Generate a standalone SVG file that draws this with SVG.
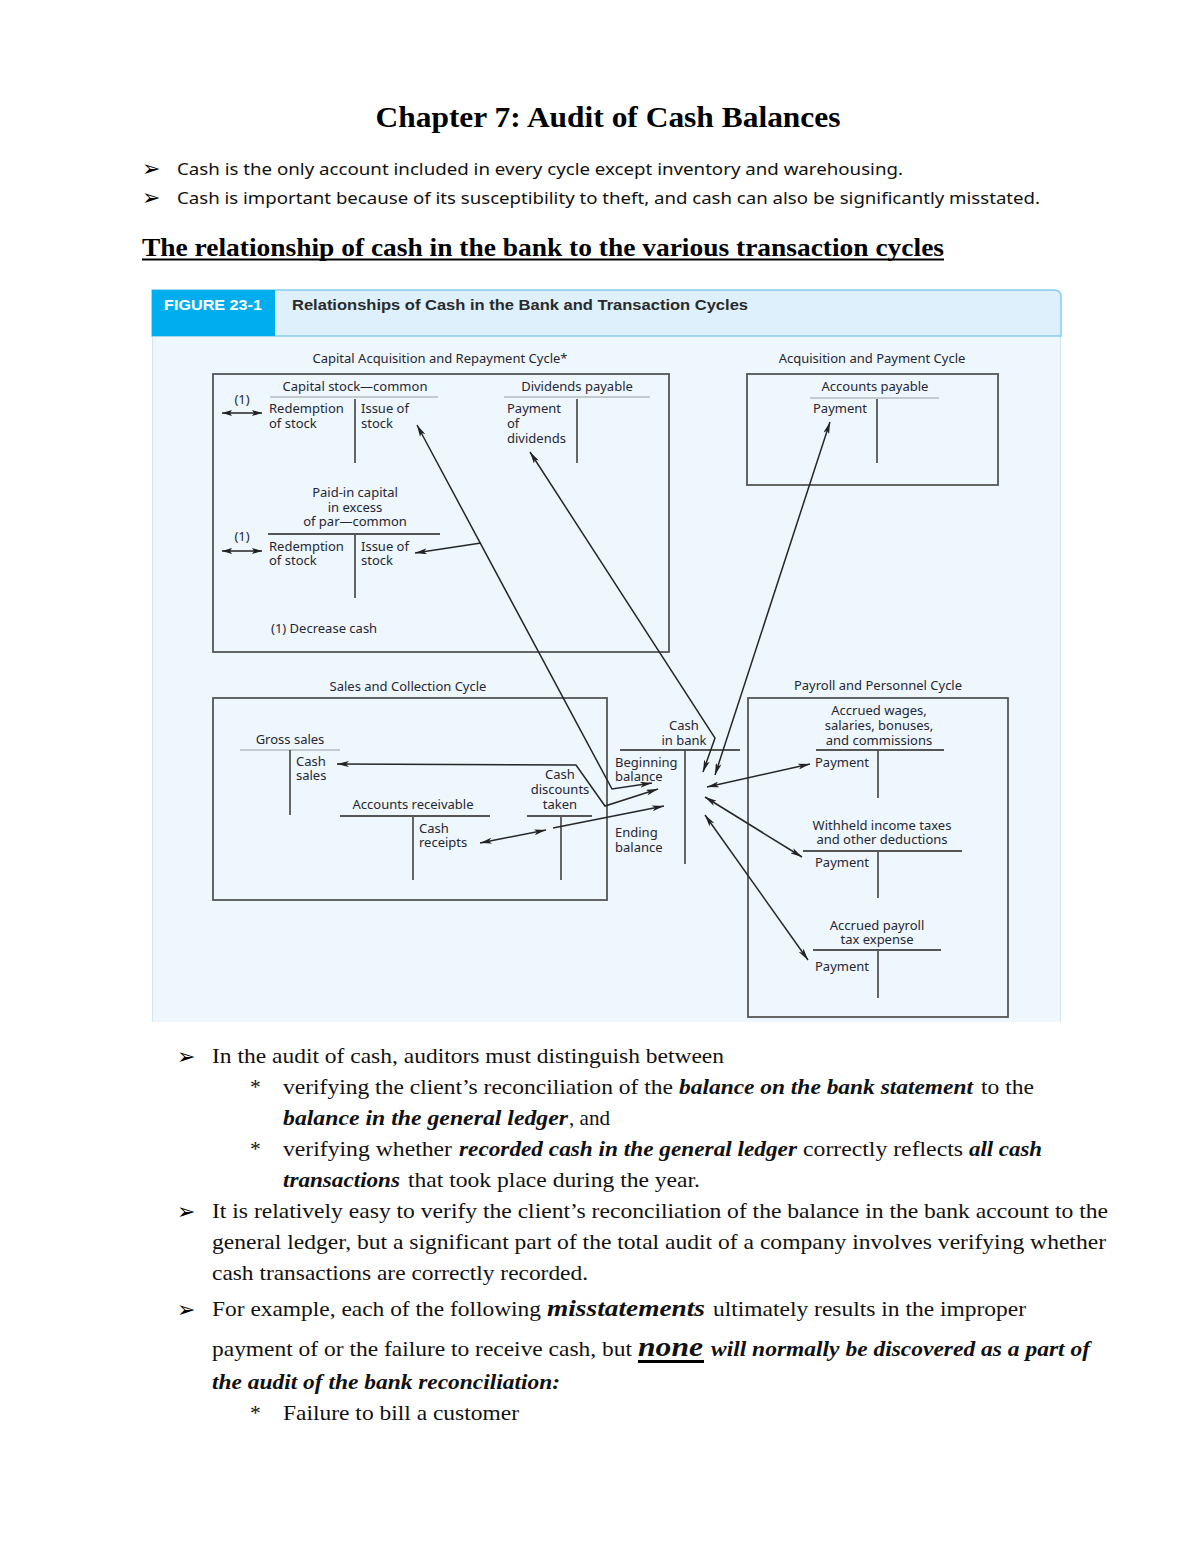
<svg xmlns="http://www.w3.org/2000/svg" width="1200" height="1553" viewBox="0 0 1200 1553">
<defs>
<marker id="ah" viewBox="0 0 12 6" refX="12" refY="3" markerWidth="12" markerHeight="6" markerUnits="userSpaceOnUse" orient="auto-start-reverse"><path d="M0,0 L12,3 L0,6 L3,3 z" fill="#222"/></marker>
<marker id="ahs" viewBox="0 0 10 6" refX="10" refY="3" markerWidth="10" markerHeight="6" markerUnits="userSpaceOnUse" orient="auto-start-reverse"><path d="M0,0 L10,3 L0,6 L2,3 z" fill="#222"/></marker>
</defs>
<style>
.ser{font-family:"Liberation Serif","Times New Roman",serif;fill:#000}
.cal{font-family:"Noto Sans","Open Sans",sans-serif;font-size:16px;fill:#111}
.bul{font-family:"DejaVu Sans",sans-serif;font-size:22px;fill:#000}
.body{font-family:"Liberation Serif","Times New Roman",serif;font-size:21.5px;fill:#111}
.bi{font-weight:bold;font-style:italic}
.f{font-family:"Noto Sans","Open Sans",sans-serif;font-size:13px;fill:#262633}
.m{text-anchor:middle}
.box{fill:none;stroke:#555;stroke-width:1.8}
.tl{stroke:#555;stroke-width:1.8;fill:none}
.tll{stroke:#b5bcc2;stroke-width:1.5;fill:none}
.cn{stroke:#262626;stroke-width:1.5;fill:none;marker-start:url(#ah);marker-end:url(#ah)}
.cn1{stroke:#262626;stroke-width:1.5;fill:none;marker-end:url(#ah)}
</style>
<rect x="0" y="0" width="1200" height="1553" fill="#fff"/>

<g id="page-header">
<text class="ser" x="608" y="127" font-size="29" font-weight="bold" text-anchor="middle" textLength="465" lengthAdjust="spacingAndGlyphs">Chapter 7: Audit of Cash Balances</text>
<text class="bul" x="142" y="176">➢</text>
<text class="cal" x="177" y="175" textLength="726" lengthAdjust="spacingAndGlyphs">Cash is the only account included in every cycle except inventory and warehousing.</text>
<text class="bul" x="142" y="205">➢</text>
<text class="cal" x="177" y="204" textLength="863" lengthAdjust="spacingAndGlyphs">Cash is important because of its susceptibility to theft, and cash can also be significantly misstated.</text>
<text class="ser" x="142" y="256" font-size="25" font-weight="bold" textLength="802" lengthAdjust="spacingAndGlyphs">The relationship of cash in the bank to the various transaction cycles</text>
<rect x="142" y="258.5" width="802" height="2" fill="#000"/>
</g>

<g id="figure-panel">
<rect x="152" y="290" width="909" height="732" fill="#eef7fd"/>
<line x1="152.5" y1="336" x2="152.5" y2="1022" stroke="#cfe7f5" stroke-width="1"/>
<line x1="1060.5" y1="336" x2="1060.5" y2="1022" stroke="#cfe7f5" stroke-width="1"/>
<path d="M152,336 V290 H1054 Q1061,290 1061,297 V336 Z" fill="#ddf0fb" stroke="#86cdef" stroke-width="1.5"/>
<rect x="152" y="290" width="123" height="46" fill="#00aeef"/>
<text x="164" y="310" font-family="'Liberation Sans',Arial,sans-serif" font-size="15" font-weight="bold" fill="#fff" textLength="98" lengthAdjust="spacingAndGlyphs">FIGURE 23-1</text>
<text x="292" y="310" font-family="'Liberation Sans',Arial,sans-serif" font-size="15" font-weight="bold" fill="#2a2a2a" textLength="456" lengthAdjust="spacingAndGlyphs">Relationships of Cash in the Bank and Transaction Cycles</text>
</g>

<g id="capital-cycle">
<text class="f m" x="440" y="363">Capital Acquisition and Repayment Cycle*</text>
<rect class="box" x="213" y="374" width="456" height="278"/>
</g>
<g id="capital-stock">
<text class="f m" x="355" y="391">Capital stock—common</text>
<line class="tll" x1="270" y1="397" x2="438" y2="397"/>
<line class="tl" x1="355" y1="399" x2="355" y2="463"/>
<text class="f" x="269" y="413">Redemption</text><text class="f" x="269" y="428">of stock</text>
<text class="f" x="361" y="413">Issue of</text><text class="f" x="361" y="428">stock</text>
<text class="f m" x="242" y="404" font-size="12">(1)</text>
<line x1="222" y1="413" x2="262" y2="413" stroke="#222" stroke-width="1.5" marker-start="url(#ahs)" marker-end="url(#ahs)"/>
</g>
<g id="dividends-payable">
<text class="f m" x="577" y="391">Dividends payable</text>
<line class="tll" x1="504" y1="397" x2="650" y2="397"/>
<line class="tl" x1="577" y1="399" x2="577" y2="463"/>
<text class="f" x="507" y="413">Payment</text><text class="f" x="507" y="428">of</text><text class="f" x="507" y="443">dividends</text>
</g>
<g id="paid-in-capital">
<text class="f m" x="355" y="497">Paid-in capital</text>
<text class="f m" x="355" y="512">in excess</text>
<text class="f m" x="355" y="526">of par—common</text>
<line class="tl" x1="268" y1="534" x2="440" y2="534"/>
<line class="tl" x1="355" y1="535" x2="355" y2="598"/>
<text class="f" x="269" y="551">Redemption</text><text class="f" x="269" y="565">of stock</text>
<text class="f" x="361" y="551">Issue of</text><text class="f" x="361" y="565">stock</text>
<text class="f m" x="242" y="541" font-size="12">(1)</text>
<line x1="222" y1="551" x2="262" y2="551" stroke="#222" stroke-width="1.5" marker-start="url(#ahs)" marker-end="url(#ahs)"/>
<text class="f" x="271" y="633" font-size="12.5">(1) Decrease cash</text>
</g>

<g id="acquisition-cycle">
<text class="f m" x="872" y="363">Acquisition and Payment Cycle</text>
<rect class="box" x="747" y="374" width="251" height="111"/>
<text class="f m" x="875" y="391">Accounts payable</text>
<line class="tll" x1="810" y1="398" x2="939" y2="398"/>
<line class="tl" x1="877" y1="399" x2="877" y2="463"/>
<text class="f" x="813" y="413">Payment</text>
</g>

<g id="sales-cycle">
<text class="f m" x="408" y="691">Sales and Collection Cycle</text>
<rect class="box" x="213" y="698" width="394" height="202"/>
</g>
<g id="gross-sales">
<text class="f m" x="290" y="744">Gross sales</text>
<line class="tll" x1="240" y1="750" x2="340" y2="750"/>
<line class="tl" x1="290" y1="750" x2="290" y2="815"/>
<text class="f" x="296" y="766">Cash</text><text class="f" x="296" y="780">sales</text>
</g>
<g id="accounts-receivable">
<text class="f m" x="413" y="809">Accounts receivable</text>
<line class="tl" x1="340" y1="816" x2="490" y2="816"/>
<line class="tl" x1="413" y1="816" x2="413" y2="880"/>
<text class="f" x="419" y="833">Cash</text><text class="f" x="419" y="847">receipts</text>
</g>
<g id="cash-discounts">
<text class="f m" x="560" y="779">Cash</text>
<text class="f m" x="560" y="794">discounts</text>
<text class="f m" x="560" y="809">taken</text>
<line class="tl" x1="527" y1="816" x2="592" y2="816"/>
<line class="tl" x1="561" y1="816" x2="561" y2="880"/>
</g>

<g id="cash-in-bank">
<text class="f m" x="684" y="730">Cash</text>
<text class="f m" x="684" y="745">in bank</text>
<line class="tl" x1="620" y1="750" x2="740" y2="750"/>
<line class="tl" x1="685" y1="750" x2="685" y2="864"/>
<text class="f" x="615" y="767">Beginning</text><text class="f" x="615" y="781">balance</text>
<text class="f" x="615" y="837">Ending</text><text class="f" x="615" y="852">balance</text>
</g>

<g id="payroll-cycle">
<text class="f m" x="878" y="690">Payroll and Personnel Cycle</text>
<rect class="box" x="748" y="698" width="260" height="319"/>
</g>
<g id="accrued-wages">
<text class="f m" x="879" y="715">Accrued wages,</text>
<text class="f m" x="879" y="730">salaries, bonuses,</text>
<text class="f m" x="879" y="745">and commissions</text>
<line class="tl" x1="816" y1="750" x2="944" y2="750"/>
<line class="tl" x1="878" y1="750" x2="878" y2="798"/>
<text class="f" x="815" y="767">Payment</text>
</g>
<g id="withheld-taxes">
<text class="f m" x="882" y="830">Withheld income taxes</text>
<text class="f m" x="882" y="844">and other deductions</text>
<line class="tl" x1="803" y1="851" x2="962" y2="851"/>
<line class="tl" x1="878" y1="851" x2="878" y2="898"/>
<text class="f" x="815" y="867">Payment</text>
</g>
<g id="payroll-tax">
<text class="f m" x="877" y="930">Accrued payroll</text>
<text class="f m" x="877" y="944">tax expense</text>
<line class="tl" x1="813" y1="950" x2="941" y2="950"/>
<line class="tl" x1="878" y1="950" x2="878" y2="998"/>
<text class="f" x="815" y="971">Payment</text>
</g>

<g id="connectors">
<path class="cn" d="M417,425 L612,789 L652,783"/>
<path class="cn1" d="M481,543 L415,553"/>
<path class="cn" d="M530,452 L715,738 L703,772"/>
<path class="cn" d="M830,422 L715,775"/>
<path class="cn" d="M337,764 L576,765 L605,806 L658,789"/>
<path class="cn" d="M480,843 L546,830"/>
<path class="cn1" d="M553,828 L664,806"/>
<path class="cn" d="M707,787 L810,764"/>
<path class="cn" d="M705,797 L802,857"/>
<path class="cn" d="M705,815 L808,960"/>
</g>

<g id="body-text">
<text class="bul" x="177" y="1064">➢</text>
<text class="body" x="212" y="1063" textLength="512" lengthAdjust="spacingAndGlyphs">In the audit of cash, auditors must distinguish between</text>

<text class="body" x="250" y="1094">*</text>
<text class="body" y="1094"><tspan x="283" textLength="390" lengthAdjust="spacingAndGlyphs">verifying the client’s reconciliation of the</tspan><tspan class="bi" x="679" textLength="294" lengthAdjust="spacingAndGlyphs">balance on the bank statement</tspan><tspan x="981" textLength="53" lengthAdjust="spacingAndGlyphs">to the</tspan></text>
<text class="body" y="1125"><tspan class="bi" x="283" textLength="285" lengthAdjust="spacingAndGlyphs">balance in the general ledger</tspan><tspan x="569" textLength="41" lengthAdjust="spacingAndGlyphs">, and</tspan></text>

<text class="body" x="250" y="1156">*</text>
<text class="body" y="1156"><tspan x="283" textLength="169" lengthAdjust="spacingAndGlyphs">verifying whether</tspan><tspan class="bi" x="459" textLength="338" lengthAdjust="spacingAndGlyphs">recorded cash in the general ledger</tspan><tspan x="803" textLength="160" lengthAdjust="spacingAndGlyphs">correctly reflects</tspan><tspan class="bi" x="969" textLength="73" lengthAdjust="spacingAndGlyphs">all cash</tspan></text>
<text class="body" y="1187"><tspan class="bi" x="283" textLength="117" lengthAdjust="spacingAndGlyphs">transactions</tspan><tspan x="408" textLength="292" lengthAdjust="spacingAndGlyphs">that took place during the year.</tspan></text>

<text class="bul" x="177" y="1219">➢</text>
<text class="body" x="212" y="1218" textLength="896" lengthAdjust="spacingAndGlyphs">It is relatively easy to verify the client’s reconciliation of the balance in the bank account to the</text>
<text class="body" x="212" y="1249" textLength="894" lengthAdjust="spacingAndGlyphs">general ledger, but a significant part of the total audit of a company involves verifying whether</text>
<text class="body" x="212" y="1280" textLength="376" lengthAdjust="spacingAndGlyphs">cash transactions are correctly recorded.</text>

<text class="bul" x="177" y="1317">➢</text>
<text class="body" y="1316"><tspan x="212" textLength="329" lengthAdjust="spacingAndGlyphs">For example, each of the following</tspan><tspan class="bi" x="547" font-size="24" textLength="158" lengthAdjust="spacingAndGlyphs">misstatements</tspan><tspan x="713" textLength="313" lengthAdjust="spacingAndGlyphs">ultimately results in the improper</tspan></text>
<text class="body" y="1356"><tspan x="212" textLength="420" lengthAdjust="spacingAndGlyphs">payment of or the failure to receive cash, but</tspan><tspan class="bi" x="638" font-size="27" textLength="65" lengthAdjust="spacingAndGlyphs">none</tspan><tspan class="bi" x="711" textLength="379" lengthAdjust="spacingAndGlyphs">will normally be discovered as a part of</tspan></text>
<rect x="638" y="1360" width="66" height="3" fill="#000"/>
<text class="body bi" x="212" y="1389" textLength="348" lengthAdjust="spacingAndGlyphs">the audit of the bank reconciliation:</text>

<text class="body" x="250" y="1420">*</text>
<text class="body" x="283" y="1420" textLength="236" lengthAdjust="spacingAndGlyphs">Failure to bill a customer</text>
</g>
</svg>
